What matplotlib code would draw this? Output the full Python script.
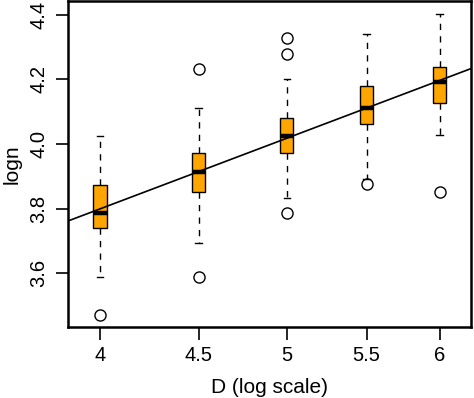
import numpy as np
import matplotlib
matplotlib.use("Agg")
import matplotlib.pyplot as plt
from matplotlib.ticker import FixedLocator, FixedFormatter, NullLocator

plt.rcParams['font.family'] = ['Liberation Sans', 'DejaVu Sans']

# box stats per D value
D = [4, 4.5, 5, 5.5, 6]
whislo = [3.588, 3.693, 3.833, 3.891, 4.028]
q1 = [3.740, 3.851, 3.972, 4.062, 4.127]
med = [3.787, 3.913, 4.025, 4.112, 4.193]
q3 = [3.873, 3.972, 4.081, 4.180, 4.239]
whishi = [4.025, 4.111, 4.200, 4.341, 4.403]
fliers = [[3.470], [4.233, 3.588], [4.329, 4.279, 3.786], [3.876], [3.851]]

# fitted line logn = a + b*log(D)
a_fit = 2.439
b_fit = 0.981

xticks = [4, 4.5, 5, 5.5, 6]
xticklabels = ['4', '4.5', '5', '5.5', '6']
yticks = [3.6, 3.8, 4.0, 4.2, 4.4]
yticklabels = ['3.6', '3.8', '4.0', '4.2', '4.4']

fig = plt.figure(figsize=(4.74, 3.98), dpi=100)
ax = fig.add_axes([68/474, 71/398, 403/474, 326/398])
ax.set_xscale('log')

stats = []
for i in range(len(D)):
    stats.append(dict(whislo=whislo[i], q1=q1[i], med=med[i], q3=q3[i],
                      whishi=whishi[i], fliers=fliers[i]))

wlog = 0.0155
widths = [d * (np.exp(wlog) - 1) for d in D]
ax.bxp(stats, positions=D, widths=widths, patch_artist=True, manage_ticks=False,
       boxprops=dict(facecolor='#FFA500', edgecolor='black', linewidth=1),
       medianprops=dict(color='black', linewidth=3.2, solid_capstyle='butt'),
       whiskerprops=dict(color='black', linewidth=1, linestyle=(0, (4.5, 4.5))),
       capprops=dict(color='black', linewidth=1),
       capwidths=[w * 0.5 for w in widths],
       flierprops=dict(marker='o', markerfacecolor='none', markeredgecolor='black',
                       markersize=8, markeredgewidth=1))

xl = np.array([3.85, 6.23])
ax.plot(xl, a_fit + b_fit * np.log(xl), color='black', linewidth=1.2)

ax.set_xlim(3.85, 6.23)
ax.set_ylim(3.433, 4.443)

ax.xaxis.set_major_locator(FixedLocator(xticks))
ax.xaxis.set_major_formatter(FixedFormatter(xticklabels))
ax.xaxis.set_minor_locator(NullLocator())
ax.set_yticks(yticks)
ax.set_yticklabels(yticklabels, rotation=90, va='center')

ax.tick_params(axis='both', direction='out', length=9, width=1.2, labelsize=14.5, pad=5)
for s in ax.spines.values():
    s.set_linewidth(1.8)

ax.set_xlabel('D (log scale)', fontsize=15, labelpad=9)
ax.set_ylabel('logn', fontsize=15, labelpad=6)

fig.savefig('out.png', dpi=100)
